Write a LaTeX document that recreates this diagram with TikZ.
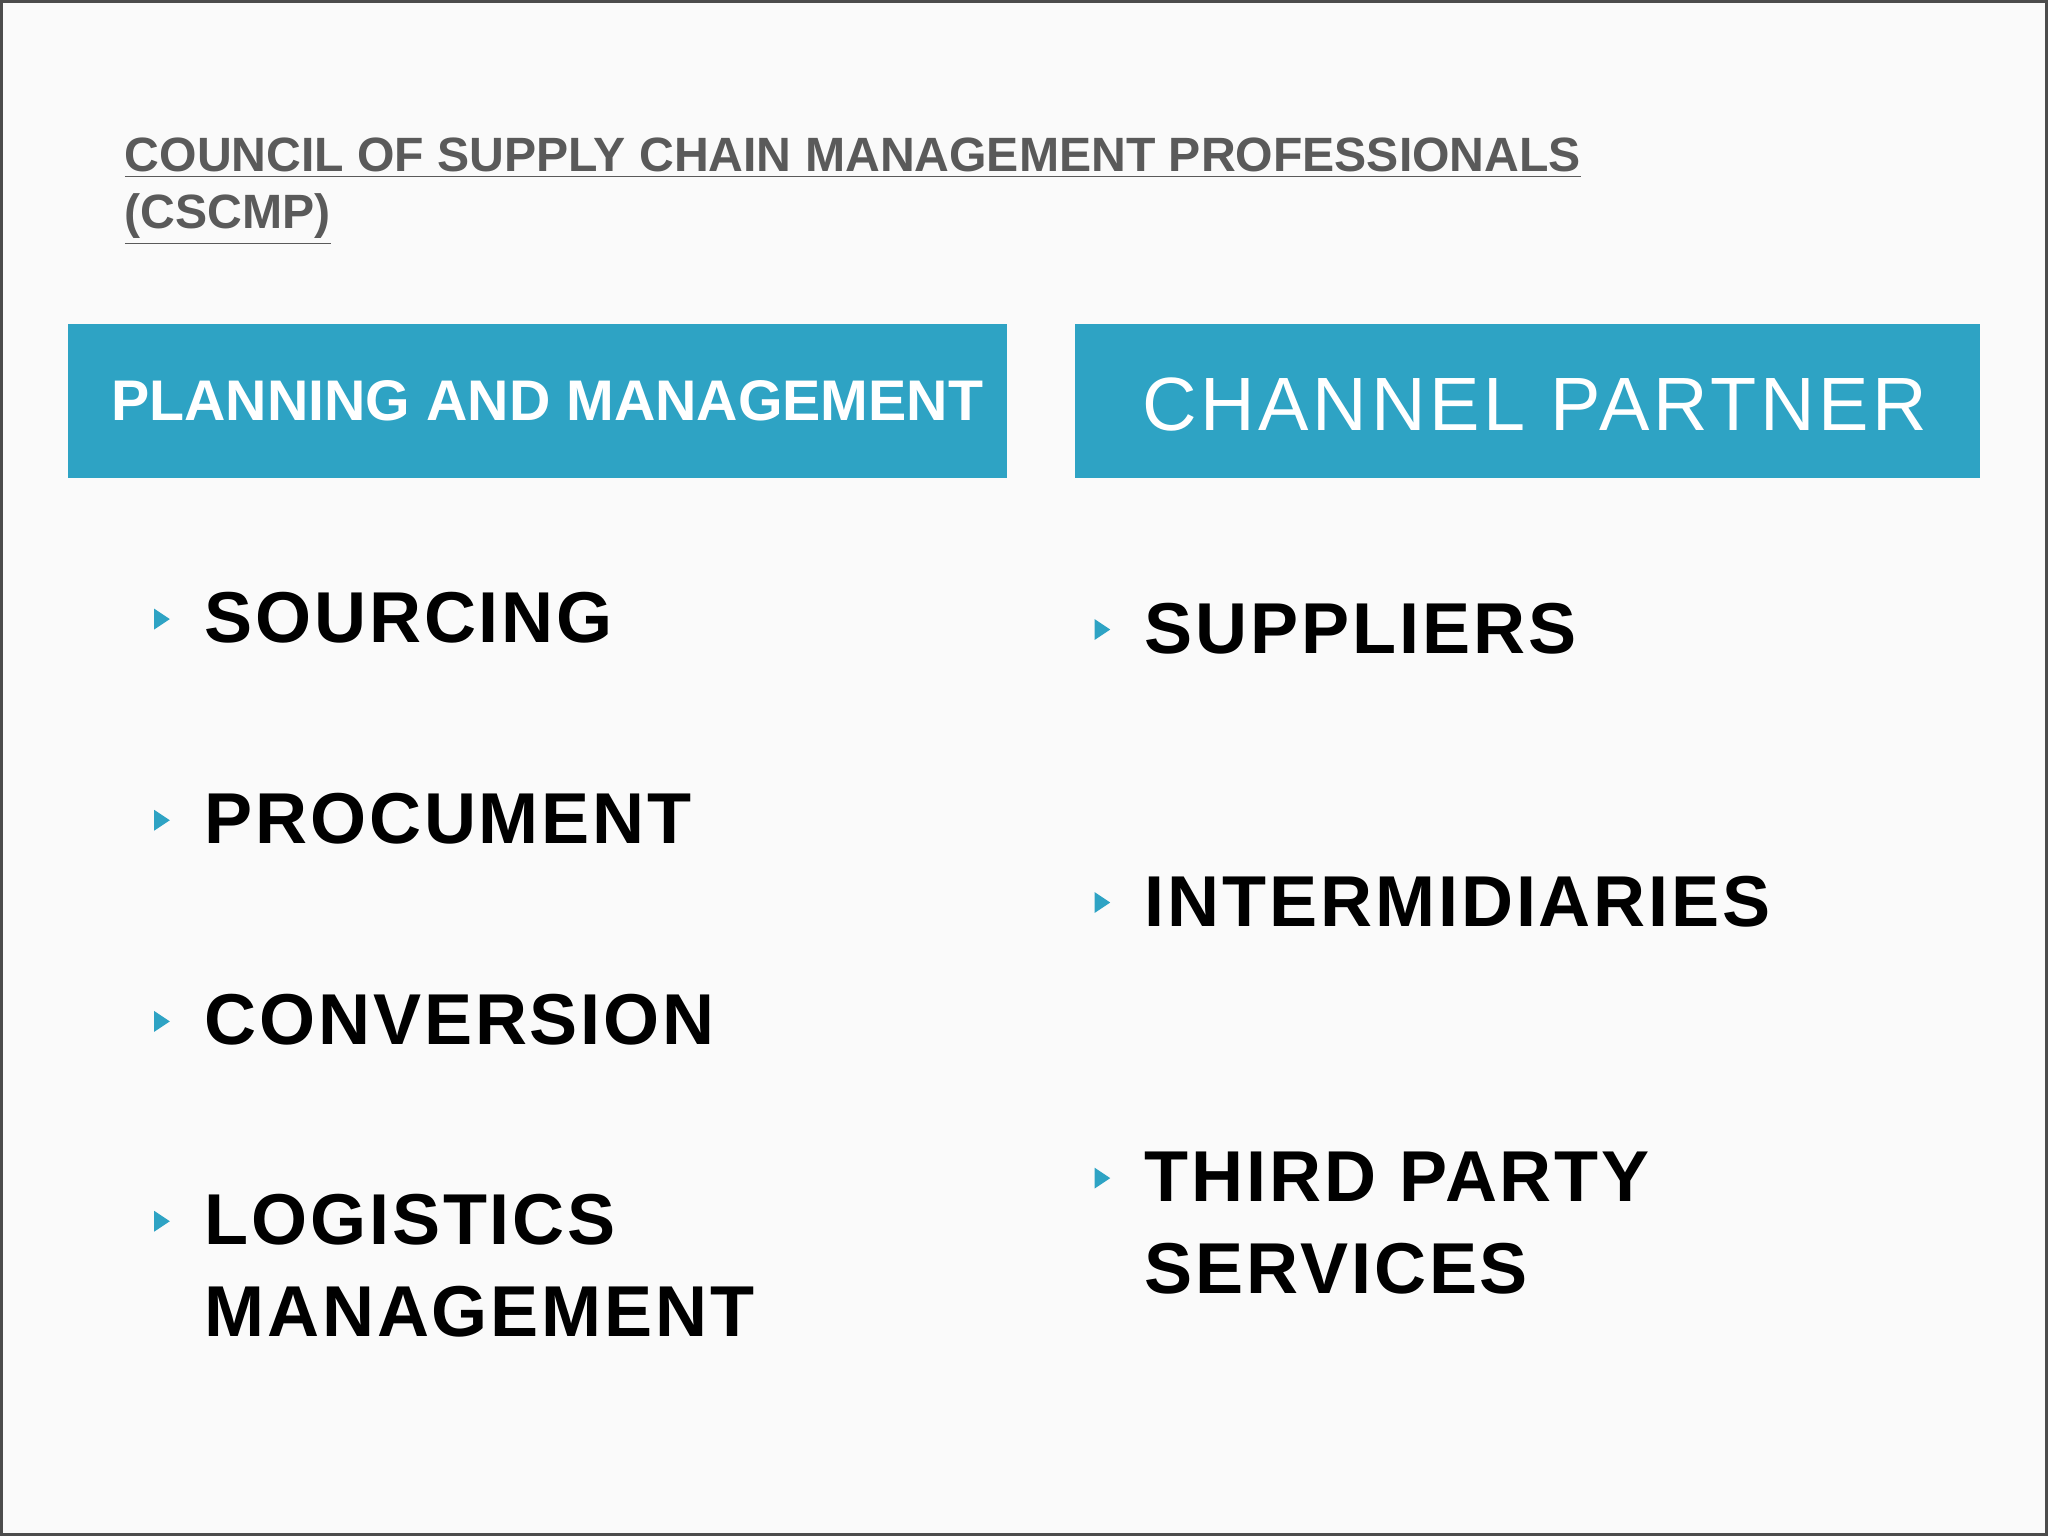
\documentclass[tikz,border=0pt]{standalone}
\usepackage{fontspec}
\setmainfont{Liberation Sans}
\newfontfamily\itemfont[LetterSpace=4]{Liberation Sans}
\newfontfamily\headfont[LetterSpace=5]{Liberation Sans}
\usetikzlibrary{positioning}
\definecolor{boxblue}{HTML}{2EA3C4}
\definecolor{titlegray}{HTML}{5A5A5A}
\tikzset{
  headbox/.style={fill=boxblue,inner sep=0pt},
  bulletmark/.style={fill=boxblue,inner sep=0pt},
  itemtext/.style={anchor=base west,inner sep=0pt,align=left,font=\itemfont\fontsize{20.5}{26}\selectfont\bfseries},
  titletext/.style={anchor=base west,inner sep=0pt,text=titlegray,font=\fontsize{13.7}{16}\selectfont\bfseries}
}
\begin{document}
\begin{tikzpicture}[x=0.013061cm,y=-0.013061cm]
  \useasboundingbox (0,0) rectangle (1568,1176);
  \fill[white!96!gray] (0,0) rectangle (1568,1176);
  \draw[black!70,line width=0.8pt] (1,1) rectangle (1567,1175);
  % title
  \node[titletext] (title1) at (95,131) {\underline{COUNCIL OF SUPPLY CHAIN MANAGEMENT PROFESSIONALS}};
  \node[titletext] (title2) at (95,175) {\underline{(CSCMP)}};
  % header boxes
  \fill[headbox] (52,248) rectangle (771,366);
  \fill[headbox] (823,248) rectangle (1516,366);
  \node[text=white,font=\fontsize{16.3}{20}\selectfont\bfseries] (plan) at (419,307) {PLANNING AND MANAGEMENT};
  \node[text=white,font=\headfont\fontsize{21.5}{26}\selectfont] (chan) at (1175,310) {CHANNEL PARTNER};
  % bullets (\s = shift for two-line items)
  \foreach \x/\y/\s/\t [count=\i] in {
      118/474/0/SOURCING, 118/628/0/PROCUMENT, 118/782/0/CONVERSION,
      118/935/70/{LOGISTICS\\MANAGEMENT},
      838/482/0/SUPPLIERS, 838/691/0/INTERMIDIARIES,
      838/902/70/{THIRD PARTY\\SERVICES}}
  {
    \fill[bulletmark] (\x,\y-8) -- (\x+12,\y) -- (\x,\y+8) -- cycle;
    \node[itemtext] (item\i) at (\x+38,\y+18+\s) {\t};
  }
\end{tikzpicture}
\end{document}
